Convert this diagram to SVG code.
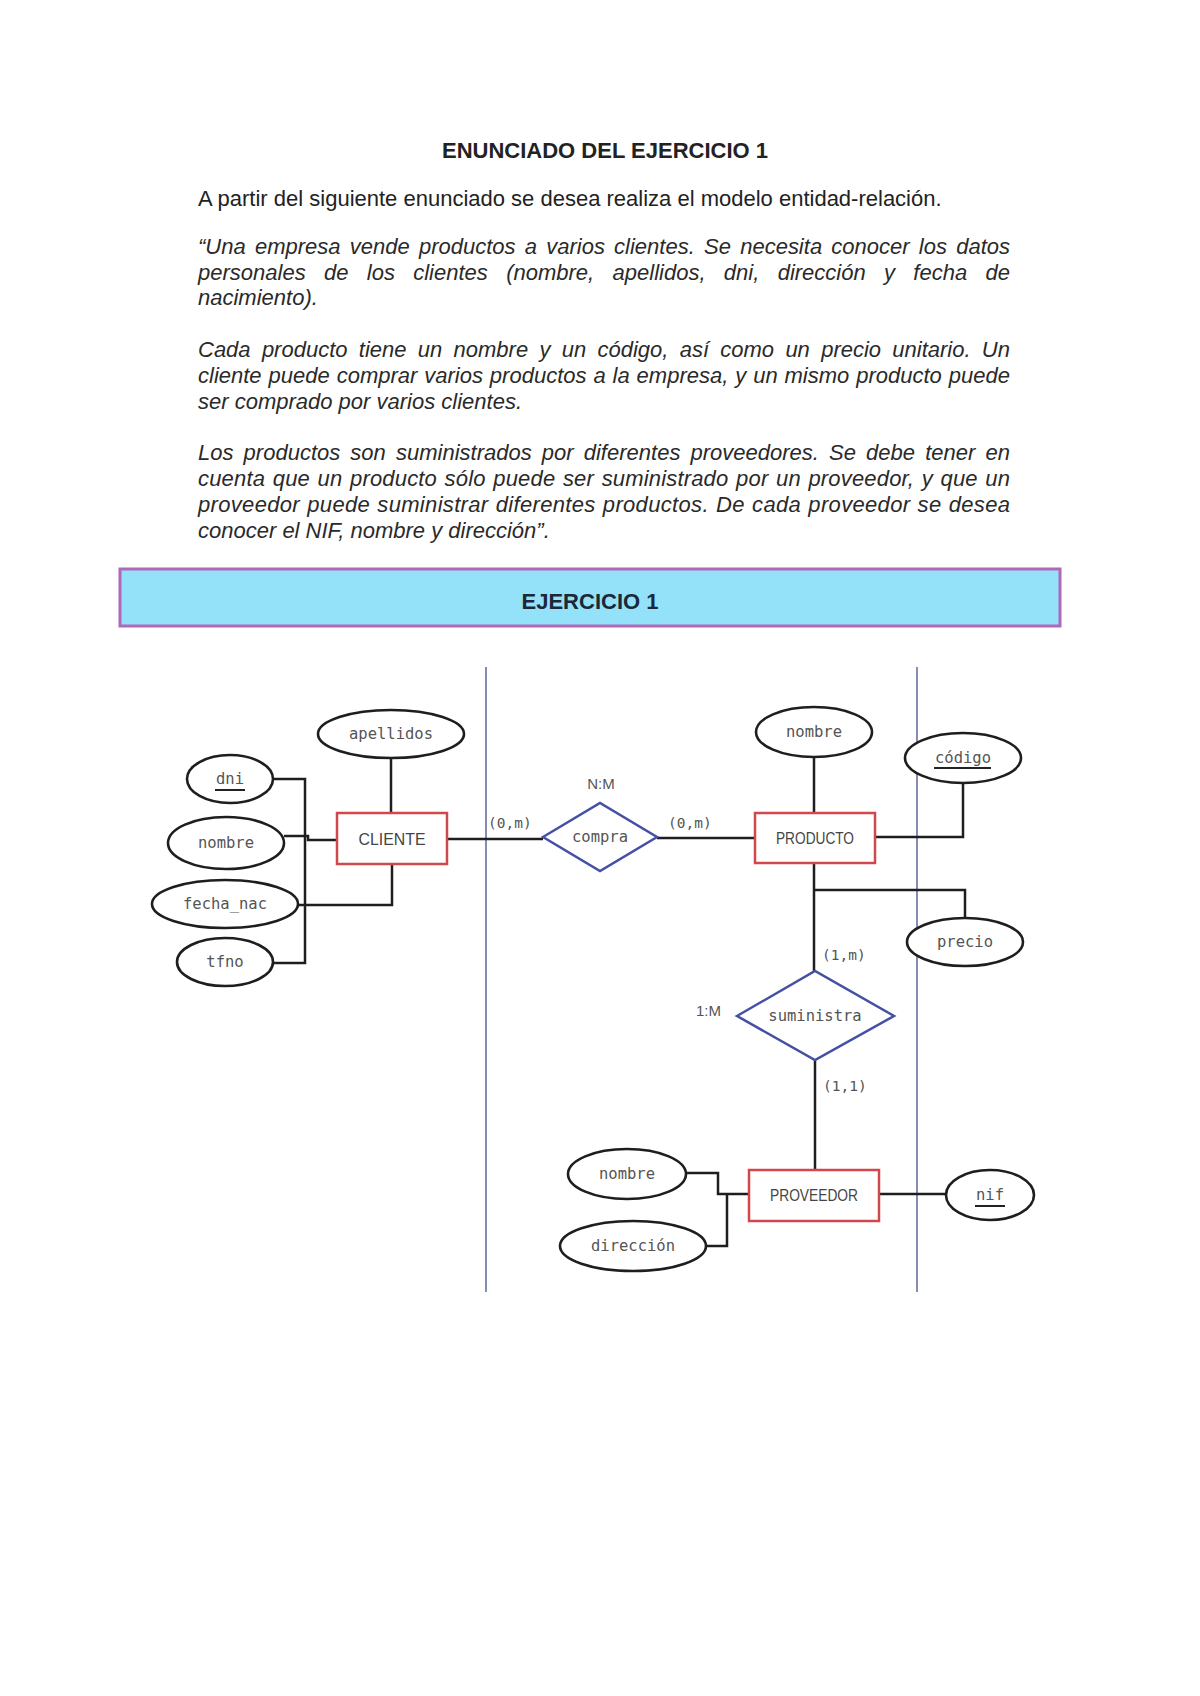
<svg xmlns="http://www.w3.org/2000/svg" width="1200" height="1696" viewBox="0 0 1200 1696">
<style>
.body{font-family:"Liberation Sans",Arial,sans-serif;font-size:22px;fill:#222}
.it{font-style:italic;fill:#2a2a2a}
.bold{font-weight:bold}
.attr{fill:#fff;stroke:#1e1e1e;stroke-width:2.6}
.ent{fill:#fff;stroke:#d0484c;stroke-width:2.5}
.rel{fill:#fff;stroke:#4450a4;stroke-width:2.5}
.mono{font-family:"DejaVu Sans Mono","Liberation Mono",monospace;font-size:15.5px;fill:#555;text-anchor:middle}
.card{font-family:"DejaVu Sans Mono","Liberation Mono",monospace;font-size:14.5px;fill:#555}
.entl{font-family:"Liberation Sans",Arial,sans-serif;font-size:16px;fill:#444;text-anchor:middle}
.cl{font-family:"Liberation Sans",Arial,sans-serif;font-size:15px;fill:#555}
.ln{fill:none;stroke:#1e1e1e;stroke-width:2.5}
.sep{stroke:#6870a0;stroke-width:1.6}
.ul{stroke:#222;stroke-width:2}
</style>

<g id="header">
<text class="body bold" x="605" y="158" text-anchor="middle">ENUNCIADO DEL EJERCICIO 1</text>
<text class="body" x="198" y="206">A partir del siguiente enunciado se desea realiza el modelo entidad-relación.</text>
<text class="body it" x="198" y="254" style="word-spacing:3.1px" textLength="812" lengthAdjust="spacing">“Una empresa vende productos a varios clientes. Se necesita conocer los datos</text>
<text class="body it" x="198" y="280" style="word-spacing:12.2px" textLength="812" lengthAdjust="spacing">personales de los clientes (nombre, apellidos, dni, dirección y fecha de</text>
<text class="body it" x="198" y="305">nacimiento).</text>
<text class="body it" x="198" y="357" style="word-spacing:5.2px" textLength="812" lengthAdjust="spacing">Cada producto tiene un nombre y un código, así como un precio unitario. Un</text>
<text class="body it" x="198" y="383" style="word-spacing:0.8px" textLength="812" lengthAdjust="spacing">cliente puede comprar varios productos a la empresa, y un mismo producto puede</text>
<text class="body it" x="198" y="409">ser comprado por varios clientes.</text>
<text class="body it" x="198" y="460" style="word-spacing:4px" textLength="812" lengthAdjust="spacing">Los productos son suministrados por diferentes proveedores. Se debe tener en</text>
<text class="body it" x="198" y="486" style="word-spacing:1.3px" textLength="812" lengthAdjust="spacing">cuenta que un producto sólo puede ser suministrado por un proveedor, y que un</text>
<text class="body it" x="198" y="512" style="word-spacing:0.8px" textLength="812" lengthAdjust="spacing">proveedor puede suministrar diferentes productos. De cada proveedor se desea</text>
<text class="body it" x="198" y="538">conocer el NIF, nombre y dirección”.</text>
</g>

<g id="banner">
<rect x="120" y="569" width="940" height="57" fill="#94e2fa" stroke="#b068b8" stroke-width="3"/>
<text class="body bold" x="590" y="609" text-anchor="middle" style="fill:#1a2838">EJERCICIO 1</text>
</g>

<g id="separators">
<line class="sep" x1="486" y1="667" x2="486" y2="1292"/>
<line class="sep" x1="917" y1="667" x2="917" y2="1292"/>
</g>

<g id="connectors">
<path class="ln" d="M391 758 V813"/>
<path class="ln" d="M273 779 H305 V963 H273"/>
<path class="ln" d="M284 836 H308 V840 H337"/>
<path class="ln" d="M298 905 H392 V864"/>
<path class="ln" d="M447 839 H543"/>
<path class="ln" d="M657 838 H755"/>
<path class="ln" d="M814 757 V813"/>
<path class="ln" d="M875 837 H963 V783"/>
<path class="ln" d="M814 863 V971"/>
<path class="ln" d="M814 890 H965 V918"/>
<path class="ln" d="M815 1060 V1170"/>
<path class="ln" d="M686 1173 H718 V1194 H749"/>
<path class="ln" d="M707 1246 H727 V1194"/>
<path class="ln" d="M879 1194 H946"/>
</g>

<g id="cardinalities">
<text class="card" x="488" y="828">(0,m)</text>
<text class="card" x="668" y="828">(0,m)</text>
<text class="cl" x="601" y="789" text-anchor="middle">N:M</text>
<text class="card" x="822" y="960">(1,m)</text>
<text class="cl" x="696" y="1016">1:M</text>
<text class="card" x="823" y="1091">(1,1)</text>
</g>

<g id="CLIENTE">
<rect class="ent" x="337" y="813" width="110" height="51"/>
<text class="entl" x="392" y="845" textLength="67" lengthAdjust="spacingAndGlyphs">CLIENTE</text>
</g>
<g id="apellidos">
<ellipse class="attr" cx="391" cy="734" rx="73" ry="24"/>
<text class="mono" x="391" y="739">apellidos</text>
</g>
<g id="dni">
<ellipse class="attr" cx="230" cy="779" rx="43" ry="24"/>
<text class="mono" x="230" y="784">dni</text>
<line class="ul" x1="215" y1="790" x2="245" y2="790"/>
</g>
<g id="nombre_cliente">
<ellipse class="attr" cx="226" cy="843" rx="58" ry="26"/>
<text class="mono" x="226" y="848">nombre</text>
</g>
<g id="fecha_nac">
<ellipse class="attr" cx="225" cy="904" rx="73" ry="24"/>
<text class="mono" x="225" y="909">fecha_nac</text>
</g>
<g id="tfno">
<ellipse class="attr" cx="225" cy="962" rx="48" ry="24"/>
<text class="mono" x="225" y="967">tfno</text>
</g>

<g id="compra">
<polygon class="rel" points="543,837 600,803 657,837 600,871"/>
<text class="mono" x="600" y="842">compra</text>
</g>

<g id="PRODUCTO">
<rect class="ent" x="755" y="813" width="120" height="50"/>
<text class="entl" x="815" y="844" textLength="78" lengthAdjust="spacingAndGlyphs">PRODUCTO</text>
</g>
<g id="nombre_producto">
<ellipse class="attr" cx="814" cy="732" rx="58" ry="25"/>
<text class="mono" x="814" y="737">nombre</text>
</g>
<g id="codigo">
<ellipse class="attr" cx="963" cy="758" rx="58" ry="25"/>
<text class="mono" x="963" y="763">código</text>
<line class="ul" x1="934" y1="768" x2="991" y2="768"/>
</g>
<g id="precio">
<ellipse class="attr" cx="965" cy="942" rx="58" ry="24"/>
<text class="mono" x="965" y="947">precio</text>
</g>

<g id="suministra">
<polygon class="rel" points="737,1016 815,971 894,1016 815,1060"/>
<text class="mono" x="815" y="1021">suministra</text>
</g>

<g id="PROVEEDOR">
<rect class="ent" x="749" y="1170" width="130" height="51"/>
<text class="entl" x="814" y="1201" textLength="88" lengthAdjust="spacingAndGlyphs">PROVEEDOR</text>
</g>
<g id="nombre_proveedor">
<ellipse class="attr" cx="627" cy="1174" rx="59" ry="25"/>
<text class="mono" x="627" y="1179">nombre</text>
</g>
<g id="direccion">
<ellipse class="attr" cx="633" cy="1246" rx="73" ry="25"/>
<text class="mono" x="633" y="1251">dirección</text>
</g>
<g id="nif">
<ellipse class="attr" cx="990" cy="1195" rx="44" ry="25"/>
<text class="mono" x="990" y="1200">nif</text>
<line class="ul" x1="975" y1="1206" x2="1005" y2="1206"/>
</g>
</svg>
